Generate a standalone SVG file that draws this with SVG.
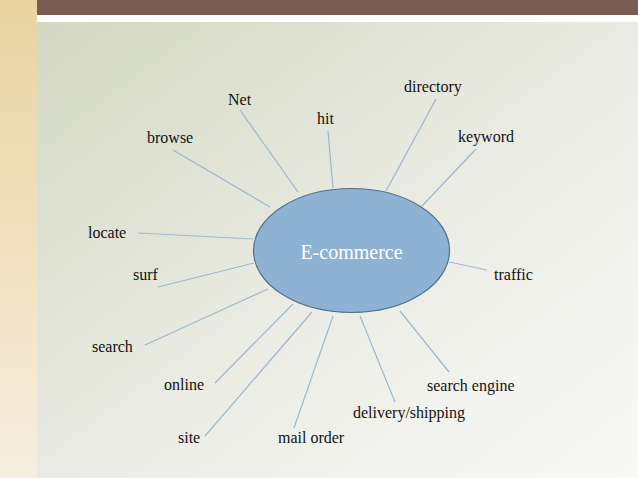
<svg xmlns="http://www.w3.org/2000/svg" width="638" height="478" viewBox="0 0 638 478">
<defs>
<linearGradient id="side" x1="0" y1="0" x2="0" y2="1"><stop offset="0" stop-color="#e9d3a0"/><stop offset="1" stop-color="#f6eedf"/></linearGradient>
<linearGradient id="bg" x1="0" y1="0" x2="1" y2="1"><stop offset="0" stop-color="#d3d8c3"/><stop offset="0.6" stop-color="#eeeee8"/><stop offset="1" stop-color="#f8f8f6"/></linearGradient>
<style>
.l{stroke:#9cb8d0;stroke-width:1.2;fill:none}
.t{font-family:"Liberation Serif","DejaVu Serif",serif;font-size:16px;fill:#111}
</style>
</defs>
<rect width="638" height="478" fill="#fff"/>
<rect x="0" y="0" width="37" height="478" fill="url(#side)"/>
<rect x="37" y="0" width="601" height="15" fill="#7a5c53"/>
<rect x="37" y="22" width="601" height="456" fill="url(#bg)"/>
<g id="connectors">
<line class="l" x1="240" y1="110" x2="298" y2="192"/>
<line class="l" x1="328" y1="131" x2="333" y2="188"/>
<line class="l" x1="436" y1="99" x2="386" y2="191"/>
<line class="l" x1="476" y1="149" x2="422" y2="206"/>
<line class="l" x1="173" y1="150" x2="270" y2="207"/>
<line class="l" x1="138" y1="233" x2="253" y2="239"/>
<line class="l" x1="158" y1="287" x2="254" y2="263"/>
<line class="l" x1="145" y1="345" x2="268" y2="289"/>
<line class="l" x1="215" y1="383" x2="293" y2="304"/>
<line class="l" x1="205" y1="436" x2="312" y2="312"/>
<line class="l" x1="294" y1="428" x2="333" y2="316"/>
<line class="l" x1="395" y1="402" x2="360" y2="316"/>
<line class="l" x1="449" y1="372" x2="400" y2="311"/>
<line class="l" x1="487" y1="270" x2="449" y2="262"/>
</g>
<g id="center"><ellipse cx="351.5" cy="250.5" rx="98" ry="62" fill="#8eb2d3" stroke="#52708a" stroke-width="1.2"/>
<text x="351.5" y="259" text-anchor="middle" style="font-family:'Liberation Serif','DejaVu Serif',serif;font-size:20px;fill:#fff">E-commerce</text></g>
<g id="n-net"><text class="t" x="228" y="105">Net</text></g>
<g id="n-hit"><text class="t" x="317" y="124">hit</text></g>
<g id="n-directory"><text class="t" x="404" y="92">directory</text></g>
<g id="n-keyword"><text class="t" x="458" y="142">keyword</text></g>
<g id="n-browse"><text class="t" x="147" y="143">browse</text></g>
<g id="n-locate"><text class="t" x="88" y="238">locate</text></g>
<g id="n-surf"><text class="t" x="133" y="280">surf</text></g>
<g id="n-traffic"><text class="t" x="494" y="280">traffic</text></g>
<g id="n-search"><text class="t" x="92" y="352">search</text></g>
<g id="n-online"><text class="t" x="164" y="390">online</text></g>
<g id="n-searchengine"><text class="t" x="427" y="391">search engine</text></g>
<g id="n-delivery"><text class="t" x="353" y="418">delivery/shipping</text></g>
<g id="n-site"><text class="t" x="178" y="443">site</text></g>
<g id="n-mailorder"><text class="t" x="278" y="443">mail order</text></g>
</svg>
